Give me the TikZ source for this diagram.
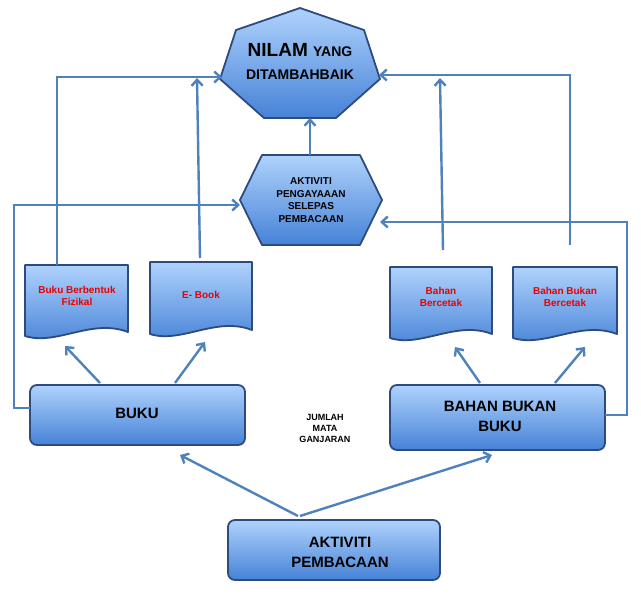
\documentclass[tikz,border=0pt]{standalone}
\usepackage{fontspec}
\setmainfont{Liberation Sans}
\usetikzlibrary{arrows.meta}
\definecolor{ln}{RGB}{79,129,189}
\definecolor{lt}{RGB}{175,210,252}
\definecolor{dk}{RGB}{70,130,215}
\definecolor{ed}{RGB}{45,75,125}
\definecolor{rd}{RGB}{235,0,0}
\begin{document}
\begin{tikzpicture}[x=1pt,y=-1pt,
  shp/.style={top color=lt,bottom color=dk,draw=ed,line width=1.8pt,line join=round},
  con/.style={ln,line width=2.4pt,-{Straight Barb[length=6pt,width=11pt]}},
  lbl/.style={font=\bfseries,align=center,inner sep=0pt},
  doc/.style={lbl,font=\bfseries\fontsize{10}{12.5}\selectfont,text=rd}]
\useasboundingbox (0,0) rectangle (641,597);
% heptagon
\shade[shp] (300,8)--(364,30)--(380,79)--(336,118)--(264,118)--(220,79)--(236,30)--cycle;
\node[lbl,font=\bfseries\fontsize{19}{22}\selectfont] (nilam) at (300,50) {NILAM \fontsize{14}{16}\selectfont YANG};
\node[lbl,font=\bfseries\fontsize{14}{16}\selectfont] (nilam2) at (300,75) {DITAMBAHBAIK};
\coordinate (hL) at (222,77); \coordinate (hR) at (379,75); \coordinate (hB) at (310,118);
% hexagon
\shade[shp] (240,200)--(262,155)--(360,155)--(382,200)--(360,245)--(262,245)--cycle;
\node[lbl,font=\bfseries\fontsize{10}{12.5}\selectfont] (peng) at (311,200) {AKTIVITI\\PENGAYAAAN\\SELEPAS\\PEMBACAAN};
\coordinate (xT) at (310,155); \coordinate (xL) at (240,205); \coordinate (xR) at (380,222);
% documents
\foreach \a/\b/\c/\d in {25/128/265/340,150/252/262/338,390/492/267/342,513/617/267/342}{
  \shade[shp] (\a,\c)--(\b,\c)--(\b,\d-8) .. controls ({(\a+\b)/2+15},\d-22) and ({(\a+\b)/2-20},\d+6) .. (\a,\d-4)--cycle;}
\node[doc] (d1) at (77,296) {Buku Berbentuk\\Fizikal};
\node[doc] (d2) at (201,295) {E- Book};
\node[doc] (d3) at (441,297) {Bahan\\Bercetak};
\node[doc] (d4) at (565,297) {Bahan Bukan\\Bercetak};
% boxes
\shade[shp,rounded corners=7pt] (30,385) rectangle (245,445);
\node[lbl,font=\bfseries\fontsize{15}{18}\selectfont] (buku) at (137,413) {BUKU};
\shade[shp,rounded corners=7pt] (390,385) rectangle (605,450);
\node[lbl,font=\bfseries\fontsize{15}{20}\selectfont] (bbb) at (500,416) {BAHAN BUKAN\\BUKU};
\shade[shp,rounded corners=7pt] (228,520) rectangle (440,580);
\node[lbl,font=\bfseries\fontsize{15}{20}\selectfont] (akt) at (340,552) {AKTIVITI\\PEMBACAAN};
\node[lbl,font=\bfseries\fontsize{9}{11}\selectfont] (jml) at (325,428) {JUMLAH\\MATA\\GANJARAN};
% connectors
\draw[con] (57,265) |- (hL);
\draw[con] (200,258) -- (197,78);
\draw[con] (443,250) -- (440,78);
\draw[con] (570,245) |- (hR);
\draw[con] (xT) -- (hB);
\draw[con] (30,408) -| (14,205) -- (xL);
\draw[con] (605,415) -| (627,222) -- (xR);
\draw[con] (100,383) -- (65,346);
\draw[con] (175,383) -- (205,342);
\draw[con] (480,383) -- (455,347);
\draw[con] (555,383) -- (585,347);
\draw[con] (298,516) -- (180,455);
\draw[con] (300,516) -- (492,455);
\end{tikzpicture}
\end{document}
